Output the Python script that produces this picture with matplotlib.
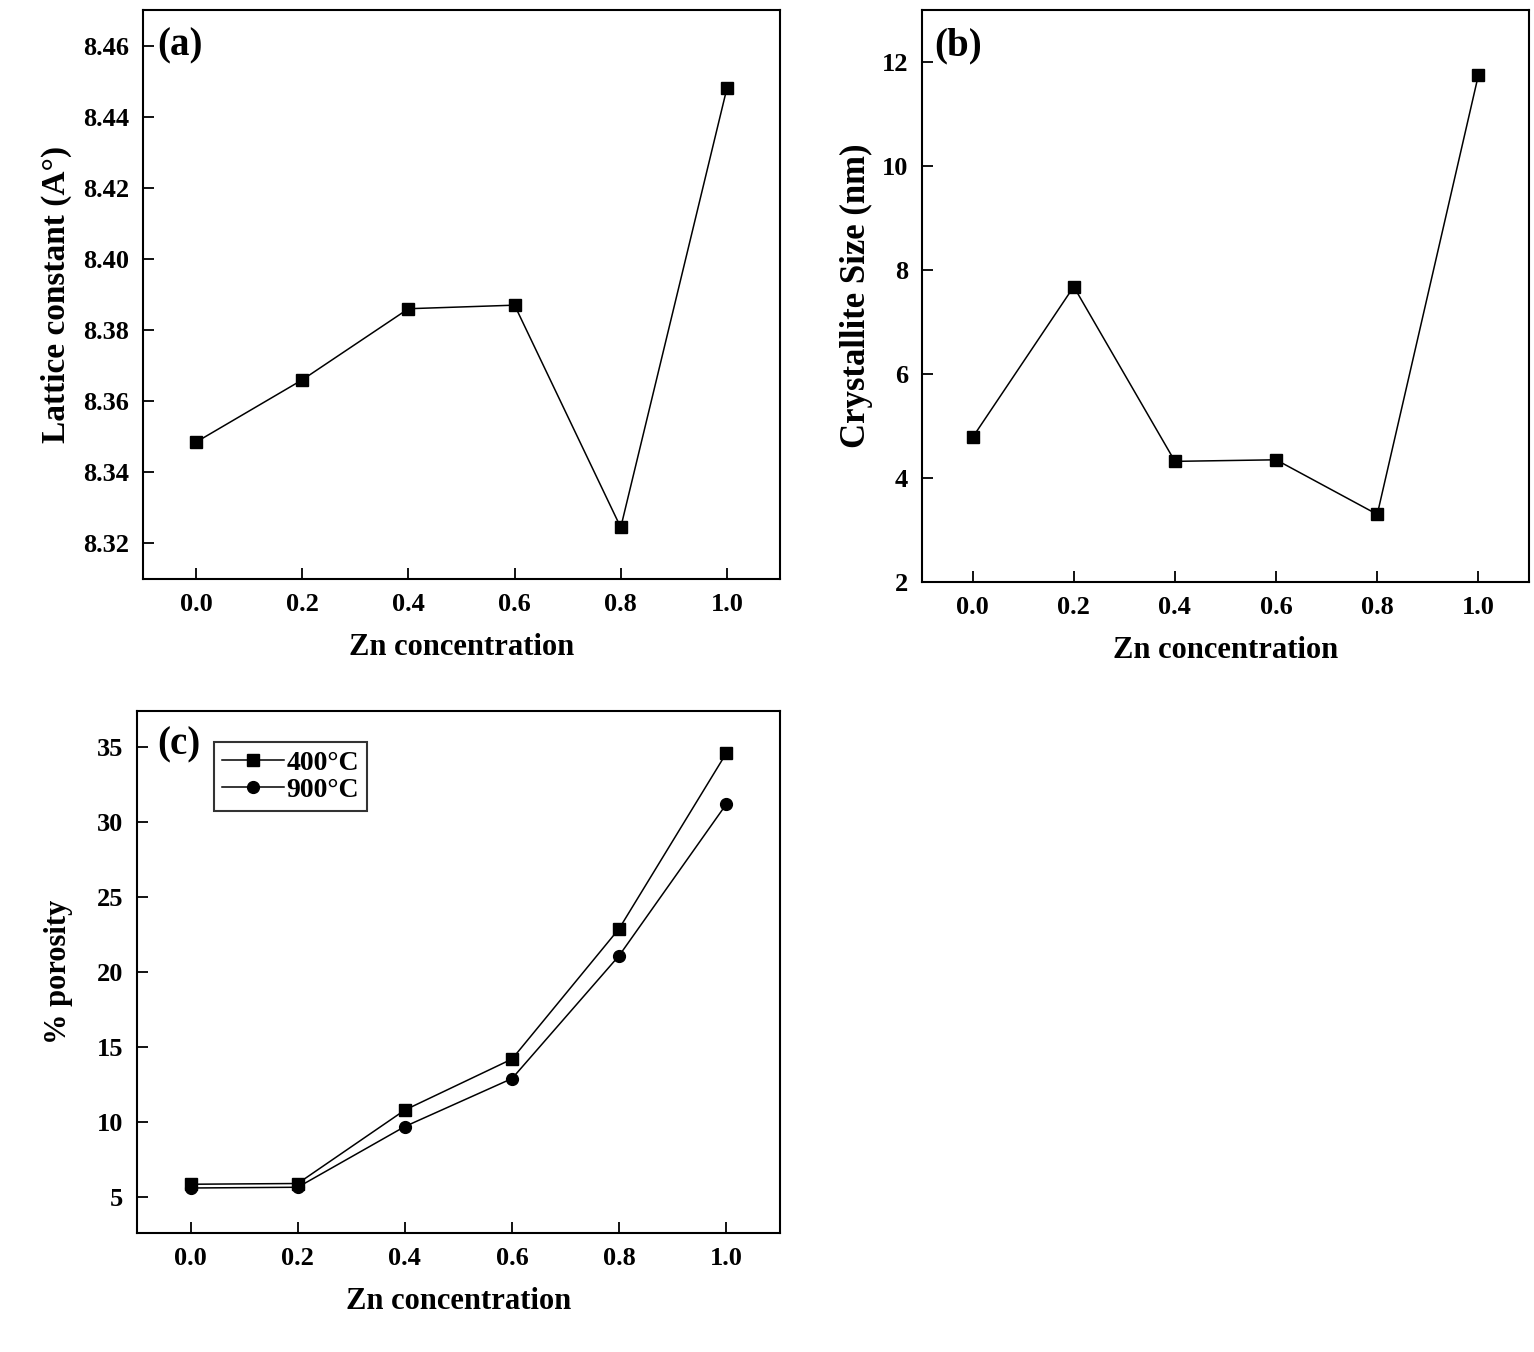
import matplotlib
matplotlib.use("Agg")
import matplotlib.pyplot as plt

zn = [0.0, 0.2, 0.4, 0.6, 0.8, 1.0]
lattice = [8.3485, 8.366, 8.386, 8.387, 8.3245, 8.448]
crystallite = [4.78, 7.68, 4.32, 4.35, 3.30, 11.75]
por_400 = [5.85, 5.90, 10.8, 14.2, 22.9, 34.6]
por_900 = [5.60, 5.65, 9.7, 12.9, 21.1, 31.2]
xticks = [0.0, 0.2, 0.4, 0.6, 0.8, 1.0]
lat_ticks = [8.32, 8.34, 8.36, 8.38, 8.40, 8.42, 8.44, 8.46]
cs_ticks = [2, 4, 6, 8, 10, 12]
por_ticks = [5, 10, 15, 20, 25, 30, 35]

plt.rcParams['font.family'] = ['Liberation Serif', 'DejaVu Serif']
plt.rcParams['font.weight'] = 'bold'
plt.rcParams['axes.labelweight'] = 'bold'

W, H = 1534, 1352
fig = plt.figure(figsize=(W/100, H/100), dpi=100)

def ax_at(l, r, t, b):
    return fig.add_axes([l/W, 1 - b/H, (r-l)/W, (b-t)/H])

def style(ax):
    ax.tick_params(direction='in', length=8, width=1.3, labelsize=19, pad=10)
    for s in ax.spines.values():
        s.set_linewidth(1.5)
    for lab in ax.get_xticklabels() + ax.get_yticklabels():
        lab.set_fontweight('bold')
    ax.set_xlim(-0.1, 1.1)
    ax.set_xticks(xticks)
    ax.set_xticklabels([f"{v:.1f}" for v in xticks])
    ax.set_xlabel("Zn concentration", fontsize=22, fontweight='bold', labelpad=12)

# (a)
ax1 = ax_at(143, 780, 10, 579)
ax1.plot(zn, lattice, color='black', lw=1.1, marker='s', ms=8)
ax1.set_ylim(8.31, 8.47)
ax1.set_yticks(lat_ticks)
ax1.set_yticklabels([f"{v:.2f}" for v in lat_ticks])
style(ax1)
ax1.set_ylabel("Lattice constant (A\u00b0)", fontsize=24, fontweight='bold', labelpad=8)
ax1.text(0.022, 0.97, "(a)", transform=ax1.transAxes, fontsize=28, fontweight='bold', va='top', ha='left')

# (b)
ax2 = ax_at(922, 1529, 10, 582)
ax2.plot(zn, crystallite, color='black', lw=1.1, marker='s', ms=8)
ax2.set_ylim(2, 13)
ax2.set_yticks(cs_ticks)
style(ax2)
ax2.set_ylabel("Crystallite Size (nm)", fontsize=25, fontweight='bold', labelpad=6)
ax2.text(0.02, 0.97, "(b)", transform=ax2.transAxes, fontsize=28, fontweight='bold', va='top', ha='left')

# (c)
ax3 = ax_at(137, 780, 711, 1233)
ax3.plot(zn, por_400, color='black', lw=1.1, marker='s', ms=8, label='400\u00b0C')
ax3.plot(zn, por_900, color='black', lw=1.1, marker='o', ms=8.5, label='900\u00b0C')
ax3.set_ylim(2.6, 37.4)
ax3.set_yticks(por_ticks)
style(ax3)
ax3.set_ylabel("% porosity", fontsize=22, fontweight='bold', labelpad=17)
ax3.text(0.032, 0.97, "(c)", transform=ax3.transAxes, fontsize=28, fontweight='bold', va='top', ha='left')
leg = ax3.legend(loc='upper left', bbox_to_anchor=(0.12, 0.94), borderaxespad=0,
                 fancybox=False, frameon=True, edgecolor='black', fontsize=20,
                 handlelength=2.2, handletextpad=0.1, borderpad=0.3, labelspacing=0.05)
leg.get_frame().set_linewidth(1.5)
for t in leg.get_texts():
    t.set_fontweight('bold')

fig.savefig("out.png", dpi=100)
